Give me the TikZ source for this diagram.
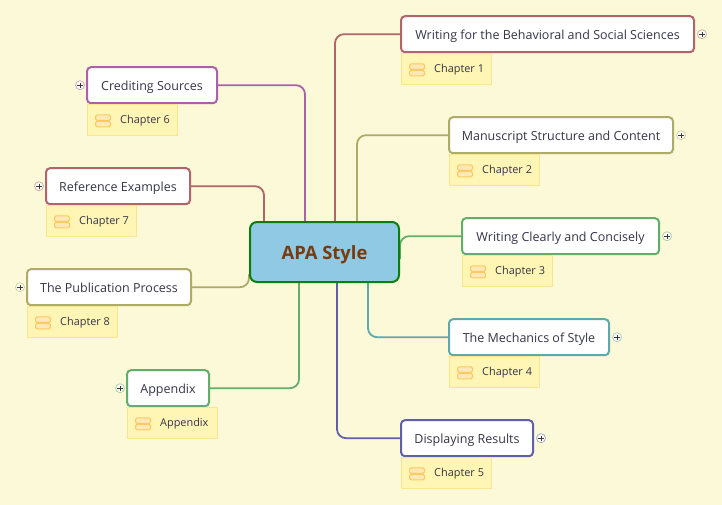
\documentclass[tikz,border=0pt]{standalone}
\usepackage{fontspec}
\usetikzlibrary{backgrounds}
\setmainfont{Open Sans}
\definecolor{paper}{HTML}{FBF9D7}
\definecolor{rootfill}{HTML}{90C9E3}
\definecolor{rootline}{HTML}{0B7F0B}
\definecolor{rootink}{HTML}{7A3A0C}
\definecolor{inkdark}{HTML}{35354A}
\definecolor{notefill}{HTML}{FFF5B4}
\definecolor{noteline}{HTML}{FBE68F}
\definecolor{iconline}{HTML}{FBCB5F}
\definecolor{iconfill}{HTML}{FFE8B8}
\definecolor{redline}{HTML}{B06568}
\definecolor{purpleline}{HTML}{AB60AB}
\definecolor{oliveline}{HTML}{ACAC68}
\definecolor{greenline}{HTML}{62AE6A}
\definecolor{tealline}{HTML}{5FA8AC}
\definecolor{blueline}{HTML}{6060AA}
\tikzset{
  topic/.style={draw=#1,line width=2pt,fill=white,rounded corners=4pt,minimum height=36pt,
    inner sep=0pt,text height=10pt,text depth=0pt,text=inkdark,font=\fontsize{12.5}{14}\selectfont},
  root/.style={draw=rootline,line width=2pt,fill=rootfill,rounded corners=7pt,minimum width=149pt,
    minimum height=60pt,text height=14.6pt,text depth=0pt,text=rootink,font=\fontsize{18.4}{20}\selectfont\bfseries},
  note/.style={draw=noteline,line width=.7pt,fill=notefill,minimum width=89.5pt,minimum height=31pt,
    inner sep=0pt},
  notetext/.style={text=inkdark,text height=7pt,text depth=0pt,font=\fontsize{10.9}{12}\selectfont,anchor=west,inner sep=0pt},
  link/.style={draw=#1,line width=1.8pt,rounded corners=9pt},
  expander/.style={draw=#1!60!white,line width=.7pt,fill=paper!50!white,circle,minimum size=9pt,inner sep=0pt,
    path picture={\draw[inkdark,line width=.7pt]
      ([xshift=-2.6pt]path picture bounding box.center) -- ([xshift=2.6pt]path picture bounding box.center)
      ([yshift=-2.6pt]path picture bounding box.center) -- ([yshift=2.6pt]path picture bounding box.center);}},
  icon/.style={draw=iconline,line width=1pt,fill=iconfill,rounded corners=1.5pt,minimum width=15pt,
    minimum height=5.5pt,inner sep=0pt}
}
\begin{document}
\begin{tikzpicture}[x=1pt,y=-1pt]
  \begin{scope}[on background layer]
    \fill[paper] (0,0) rectangle (722,505);
  \end{scope}
  \useasboundingbox (0,0) rectangle (722,505);
  \node[root] (apa) at (324.5,252) {APA Style};
  \node[topic=redline,minimum width=293pt] (writing) at (547.5,34.2) {Writing for the Behavioral and Social Sciences};
  \node[topic=oliveline,minimum width=224pt] (manuscript) at (561,135.2) {Manuscript Structure and Content};
  \node[topic=greenline,minimum width=197pt] (clearly) at (560.5,236.2) {Writing Clearly and Concisely};
  \node[topic=tealline,minimum width=160pt] (mechanics) at (529,337.2) {The Mechanics of Style};
  \node[topic=blueline,minimum width=132pt] (results) at (467,438.2) {Displaying Results};
  \node[topic=purpleline,minimum width=130pt] (crediting) at (152,85.2) {Crediting Sources};
  \node[topic=redline,minimum width=144pt] (examples) at (118,186.2) {Reference Examples};
  \node[topic=oliveline,minimum width=164pt] (process) at (109,287.2) {The Publication Process};
  \node[topic=greenline,minimum width=82pt] (appendix) at (168,388.2) {Appendix};

  \begin{scope}[on background layer]
    \draw[link=redline] ([xshift=10.5pt]apa.north) |- (writing.west);
    \draw[link=oliveline] ([xshift=32.5pt]apa.north) |- (manuscript.west);
    \draw[link=greenline] ([yshift=-7pt]apa.east) |- (clearly.west);
    \draw[link=tealline] ([xshift=43.5pt]apa.south) |- (mechanics.west);
    \draw[link=blueline] ([xshift=12.5pt]apa.south) |- (results.west);
    \draw[link=purpleline] ([xshift=-19.5pt]apa.north) |- (crediting.east);
    \draw[link=redline] ([xshift=-60.5pt]apa.north) |- (examples.east);
    \draw[link=oliveline] ([yshift=-22pt]apa.west) |- (process.east);
    \draw[link=greenline] ([xshift=-25.5pt]apa.south) |- (appendix.east);
  \end{scope}

  \foreach \name/\chap in {writing/Chapter 1,manuscript/Chapter 2,clearly/Chapter 3,mechanics/Chapter 4,
    results/Chapter 5,crediting/Chapter 6,examples/Chapter 7,process/Chapter 8,appendix/Appendix}{
    \node[note,anchor=north west,xshift=1pt,yshift=-.1pt] (\name note) at (\name.south west) {};
    \node[notetext] (\name label) at ([xshift=33pt]\name note.west) {\chap};
    \node[icon,yshift=2.5pt] (\name top) at ([xshift=16pt]\name note.west) {};
    \node[icon,yshift=-4pt] (\name bot) at ([xshift=16pt]\name note.west) {};
  }
  \foreach \name/\colr in {writing/redline,manuscript/oliveline,clearly/greenline,mechanics/tealline,results/blueline}
    \node[expander=\colr,xshift=7pt] (\name plus) at (\name.east) {};
  \foreach \name/\colr in {crediting/purpleline,examples/redline,process/oliveline,appendix/greenline}
    \node[expander=\colr,xshift=-6pt] (\name plus) at (\name.west) {};
\end{tikzpicture}
\end{document}
